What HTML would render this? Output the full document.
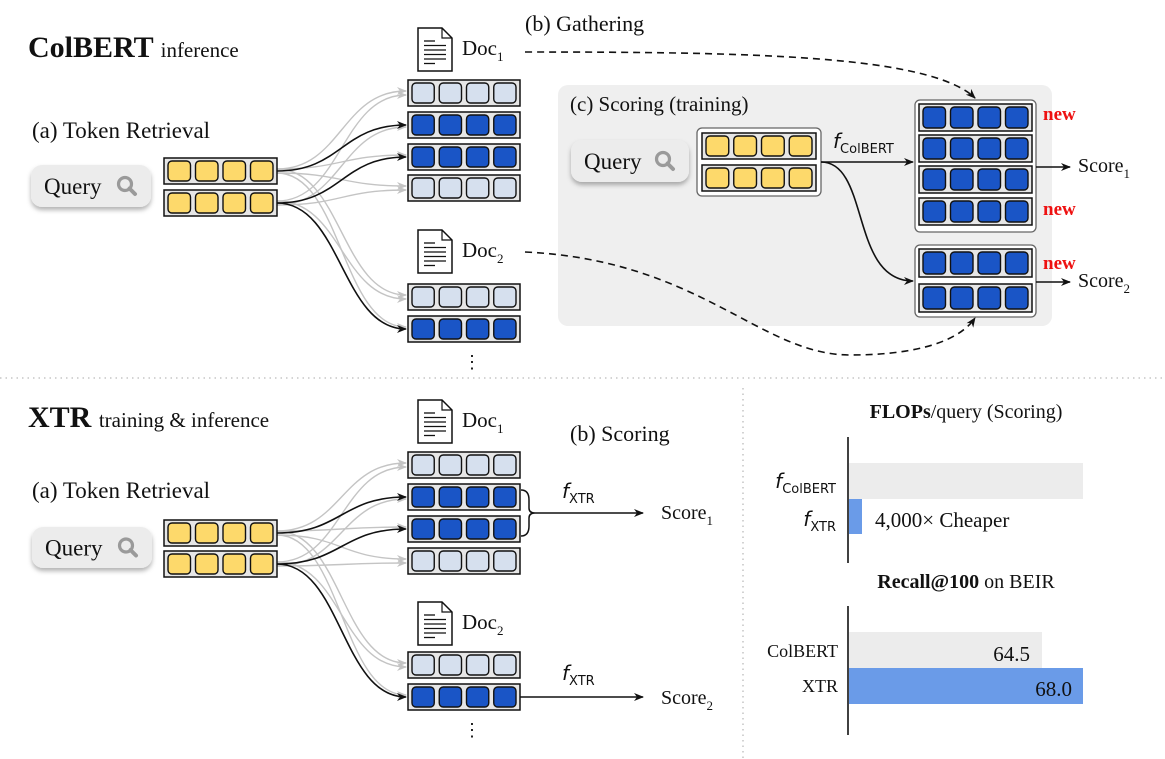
<!DOCTYPE html>
<html><head><meta charset="utf-8"><style>
html,body{margin:0;padding:0;background:#fff;}
svg{display:block;}
.s{font-family:"Liberation Serif",serif;fill:#111;}
.ss{font-family:"DejaVu Sans","Liberation Sans",sans-serif;fill:#111;}
</style></head><body>
<svg id="g" width="1165" height="759" viewBox="0 0 1165 759" xmlns="http://www.w3.org/2000/svg">
<defs>
<marker id="ab" markerWidth="10" markerHeight="8" refX="9" refY="4" orient="auto" markerUnits="userSpaceOnUse"><path d="M0,0 L10,4 L0,8 L3,4 z" fill="#111"/></marker>
<marker id="ag" markerWidth="10" markerHeight="8" refX="9" refY="4" orient="auto" markerUnits="userSpaceOnUse"><path d="M0,0 L10,4 L0,8 L3,4 z" fill="#c4c4c4"/></marker>
<filter id="sh" x="-20%" y="-30%" width="140%" height="170%"><feDropShadow dx="0" dy="3" stdDeviation="2.5" flood-color="#000" flood-opacity="0.3"/></filter>
</defs>
</svg>
<script>
var S='';
function row(x,y,w,h,fill,sq){
  var s='<rect x="'+x+'" y="'+y+'" width="'+w+'" height="'+h+'" fill="#e6e6e6" stroke="#111" stroke-width="1.5"/>';
  var sw=(w-8-3*5)/4;
  for(var i=0;i<4;i++){s+='<rect x="'+(x+4+i*(sw+5))+'" y="'+(y+3)+'" width="'+sw+'" height="'+(h-6)+'" rx="4" fill="'+fill+'" stroke="#111" stroke-width="1.4"/>';}
  return s;
}
var Y='#fdd96b',L='#d6e0ee',B='#1a55c6';
function pill(x,y,w,h){
  var s='<rect x="'+x+'" y="'+y+'" width="'+w+'" height="'+h+'" rx="11" fill="#ececec" filter="url(#sh)"/>';
  s+='<text class="s" x="'+(x+13)+'" y="'+(y+h/2+8)+'" font-size="23">Query</text>';
  var cx=x+w-26,cy=y+h/2-2;
  s+='<circle cx="'+cx+'" cy="'+cy+'" r="6.5" fill="none" stroke="#9a9a9a" stroke-width="3.2"/><line x1="'+(cx+4.5)+'" y1="'+(cy+4.5)+'" x2="'+(cx+10)+'" y2="'+(cy+10)+'" stroke="#9a9a9a" stroke-width="4" stroke-linecap="round"/>';
  return s;
}
function doc(x,y,n){
  var s='<path d="M'+x+','+y+' h24 l10,10 v33 h-34 z" fill="#fff" stroke="#111" stroke-width="1.5"/><path d="M'+(x+24)+','+y+' v10 h10" fill="none" stroke="#111" stroke-width="1.2"/>';
  for(var i=0;i<6;i++){var w=(i==0||i==5)?11:22;s+='<line x1="'+(x+6)+'" x2="'+(x+6+w)+'" y1="'+(y+13+i*4.5)+'" y2="'+(y+13+i*4.5)+'" stroke="#111" stroke-width="1.3"/>';}
  s+='<text class="s" x="'+(x+44)+'" y="'+(y+27)+'" font-size="21">Doc<tspan font-size="13" dy="6">'+n+'</tspan></text>';
  return s;
}
function cur(x1,y1,x2,y2,c,m){
  var d=(x2-x1)*0.5;
  return '<path d="M'+x1+','+y1+' C'+(x1+d)+','+y1+' '+(x2-d)+','+y2+' '+x2+','+y2+'" fill="none" stroke="'+c+'" stroke-width="'+(c=='#111'?1.6:1.4)+'" marker-end="url(#'+m+')"/>';
}
function retrieval(off,qy1,qy2,rows,blacks){
  var s='';
  var targets=rows.map(function(r){return r+13;});
  [qy1+13,qy2+13].forEach(function(q,qi){
    targets.forEach(function(t,ti){
      var isB=blacks.some(function(b){return b[0]==qi&&b[1]==ti;});
      if(!isB) s+=cur(277,q+(ti%2?2:-2),406,t+(qi?2:-2),'#c4c4c4','ag');
    });
  });
  blacks.forEach(function(b){s+=cur(277,[qy1,qy2][b[0]]+13,406,targets[b[1]],'#111','ab');});
  return s;
}
S+='<text class="s" x="28" y="57" font-size="30" font-weight="bold">ColBERT <tspan font-size="21" font-weight="normal">inference</tspan></text>';
S+='<text class="s" x="32" y="138" font-size="23">(a) Token Retrieval</text>';
S+=pill(31,165,120,42);
var tr=[80,112,144,175,284,316];
S+=retrieval(0,158,190,tr,[[0,1],[1,2],[1,5]]);
S+=row(164,158,113,26,Y)+row(164,190,113,26,Y);
S+=doc(418,28,1);
S+=row(408,80,112,26,L)+row(408,112,112,26,B)+row(408,144,112,26,B)+row(408,175,112,26,L);
S+=doc(418,230,2);
S+=row(408,284,112,26,L)+row(408,316,112,26,B);
S+='<text class="s" x="463" y="368" font-size="18">⋮</text>';
S+='<text class="s" x="525" y="31" font-size="22">(b) Gathering</text>';
S+='<rect x="558" y="85" width="494" height="241" rx="10" fill="#efefef"/>';
S+='<text class="s" x="570" y="111" font-size="21">(c) Scoring (training)</text>';
S+=pill(571,140,118,42);
S+='<rect x="697" y="128" width="124" height="68" rx="5" fill="#fff" stroke="#666" stroke-width="1.3"/>';
S+=row(702,133,114,26,Y)+row(702,165,114,26,Y);
S+='<text class="ss" x="833" y="148" font-size="20" font-style="italic">f<tspan font-size="13" font-style="normal" dy="5">ColBERT</tspan></text>';
S+='<rect x="915" y="100" width="121" height="132" rx="5" fill="#fff" stroke="#666" stroke-width="1.3"/>';
S+=row(919,104,113,27,B)+row(919,135,113,27,B)+row(919,166,113,27,B)+row(919,198,113,27,B);
S+='<rect x="915" y="245" width="121" height="72" rx="5" fill="#fff" stroke="#666" stroke-width="1.3"/>';
S+=row(919,249,113,28,B)+row(919,284,113,28,B);
S+='<line x1="821" y1="162" x2="913" y2="162" stroke="#111" stroke-width="1.6" marker-end="url(#ab)"/>';
S+='<path d="M821,162 C870,162 850,281 913,281" fill="none" stroke="#111" stroke-width="1.6" marker-end="url(#ab)"/>';
S+='<text class="s" x="1043" y="120" font-size="19" font-weight="bold" style="fill:#e11">new</text>';
S+='<text class="s" x="1043" y="215" font-size="19" font-weight="bold" style="fill:#e11">new</text>';
S+='<text class="s" x="1043" y="269" font-size="19" font-weight="bold" style="fill:#e11">new</text>';
S+='<line x1="1036" y1="167" x2="1070" y2="167" stroke="#111" stroke-width="1.6" marker-end="url(#ab)"/>';
S+='<text class="s" x="1078" y="172" font-size="20">Score<tspan font-size="13" dy="6">1</tspan></text>';
S+='<line x1="1036" y1="282" x2="1070" y2="282" stroke="#111" stroke-width="1.6" marker-end="url(#ab)"/>';
S+='<text class="s" x="1078" y="287" font-size="20">Score<tspan font-size="13" dy="6">2</tspan></text>';
S+='<path d="M525,52 C750,52 930,55 975,98" fill="none" stroke="#111" stroke-width="1.6" stroke-dasharray="7,5" marker-end="url(#ab)"/>';
S+='<path d="M525,252 C700,260 760,355 850,355 C920,355 960,340 975,318" fill="none" stroke="#111" stroke-width="1.6" stroke-dasharray="7,5" marker-end="url(#ab)"/>';
S+='<line x1="0" y1="378" x2="1165" y2="378" stroke="#bbb" stroke-width="1.3" stroke-dasharray="1.5,4"/>';
S+='<line x1="743" y1="388" x2="743" y2="759" stroke="#bbb" stroke-width="1.3" stroke-dasharray="1.5,4"/>';
S+='<text class="s" x="28" y="427" font-size="30" font-weight="bold">XTR <tspan font-size="21" font-weight="normal">training &amp; inference</tspan></text>';
S+='<text class="s" x="32" y="498" font-size="23">(a) Token Retrieval</text>';
S+=pill(32,527,120,41);
var br=[452,484,516,548,652,684];
S+=retrieval(0,520,551,br,[[0,1],[1,2],[1,5]]);
S+=row(164,520,113,26,Y)+row(164,551,113,26,Y);
S+=doc(418,400,1);
S+=row(408,452,112,26,L)+row(408,484,112,26,B)+row(408,516,112,26,B)+row(408,548,112,26,L);
S+=doc(418,602,2);
S+=row(408,652,112,26,L)+row(408,684,112,26,B);
S+='<text class="s" x="463" y="736" font-size="18">⋮</text>';
S+='<text class="s" x="570" y="441" font-size="22">(b) Scoring</text>';
S+='<path d="M521,490 q8,0 8,10 v8 q0,5 6,5 q-6,0 -6,5 v8 q0,10 -8,10" fill="none" stroke="#111" stroke-width="1.5"/>';
S+='<line x1="535" y1="513" x2="643" y2="513" stroke="#111" stroke-width="1.6" marker-end="url(#ab)"/>';
S+='<text class="ss" x="562" y="498" font-size="20" font-style="italic">f<tspan font-size="13" font-style="normal" dy="5">XTR</tspan></text>';
S+='<text class="s" x="661" y="519" font-size="20">Score<tspan font-size="13" dy="6">1</tspan></text>';
S+='<line x1="520" y1="697" x2="643" y2="697" stroke="#111" stroke-width="1.6" marker-end="url(#ab)"/>';
S+='<text class="ss" x="562" y="680" font-size="20" font-style="italic">f<tspan font-size="13" font-style="normal" dy="5">XTR</tspan></text>';
S+='<text class="s" x="661" y="704" font-size="20">Score<tspan font-size="13" dy="6">2</tspan></text>';
S+='<text class="s" x="966" y="418" font-size="20" text-anchor="middle"><tspan font-weight="bold">FLOPs</tspan>/query (Scoring)</text>';
S+='<rect x="849" y="463" width="234" height="36" fill="#ececec"/>';
S+='<rect x="849" y="499" width="13" height="35" fill="#6a9be8"/>';
S+='<line x1="848" y1="437" x2="848" y2="563" stroke="#111" stroke-width="1.6"/>';
S+='<text class="ss" x="836" y="488" font-size="20" font-style="italic" text-anchor="end">f<tspan font-size="13" font-style="normal" dy="5">ColBERT</tspan></text>';
S+='<text class="ss" x="836" y="526" font-size="20" font-style="italic" text-anchor="end">f<tspan font-size="13" font-style="normal" dy="5">XTR</tspan></text>';
S+='<text class="s" x="875" y="527" font-size="21">4,000× Cheaper</text>';
S+='<text class="s" x="966" y="588" font-size="20" text-anchor="middle"><tspan font-weight="bold">Recall@100</tspan> on BEIR</text>';
S+='<rect x="849" y="632" width="193" height="36" fill="#ececec"/>';
S+='<rect x="849" y="668" width="234" height="36" fill="#6a9be8"/>';
S+='<line x1="848" y1="606" x2="848" y2="735" stroke="#111" stroke-width="1.6"/>';
S+='<text class="s" x="838" y="657" font-size="18" text-anchor="end">ColBERT</text>';
S+='<text class="s" x="838" y="692" font-size="18" text-anchor="end">XTR</text>';
S+='<text class="s" x="1030" y="661" font-size="21" text-anchor="end">64.5</text>';
S+='<text class="s" x="1072" y="696" font-size="21" text-anchor="end">68.0</text>';
document.getElementById('g').insertAdjacentHTML('beforeend',S);
</script>
</body></html>
